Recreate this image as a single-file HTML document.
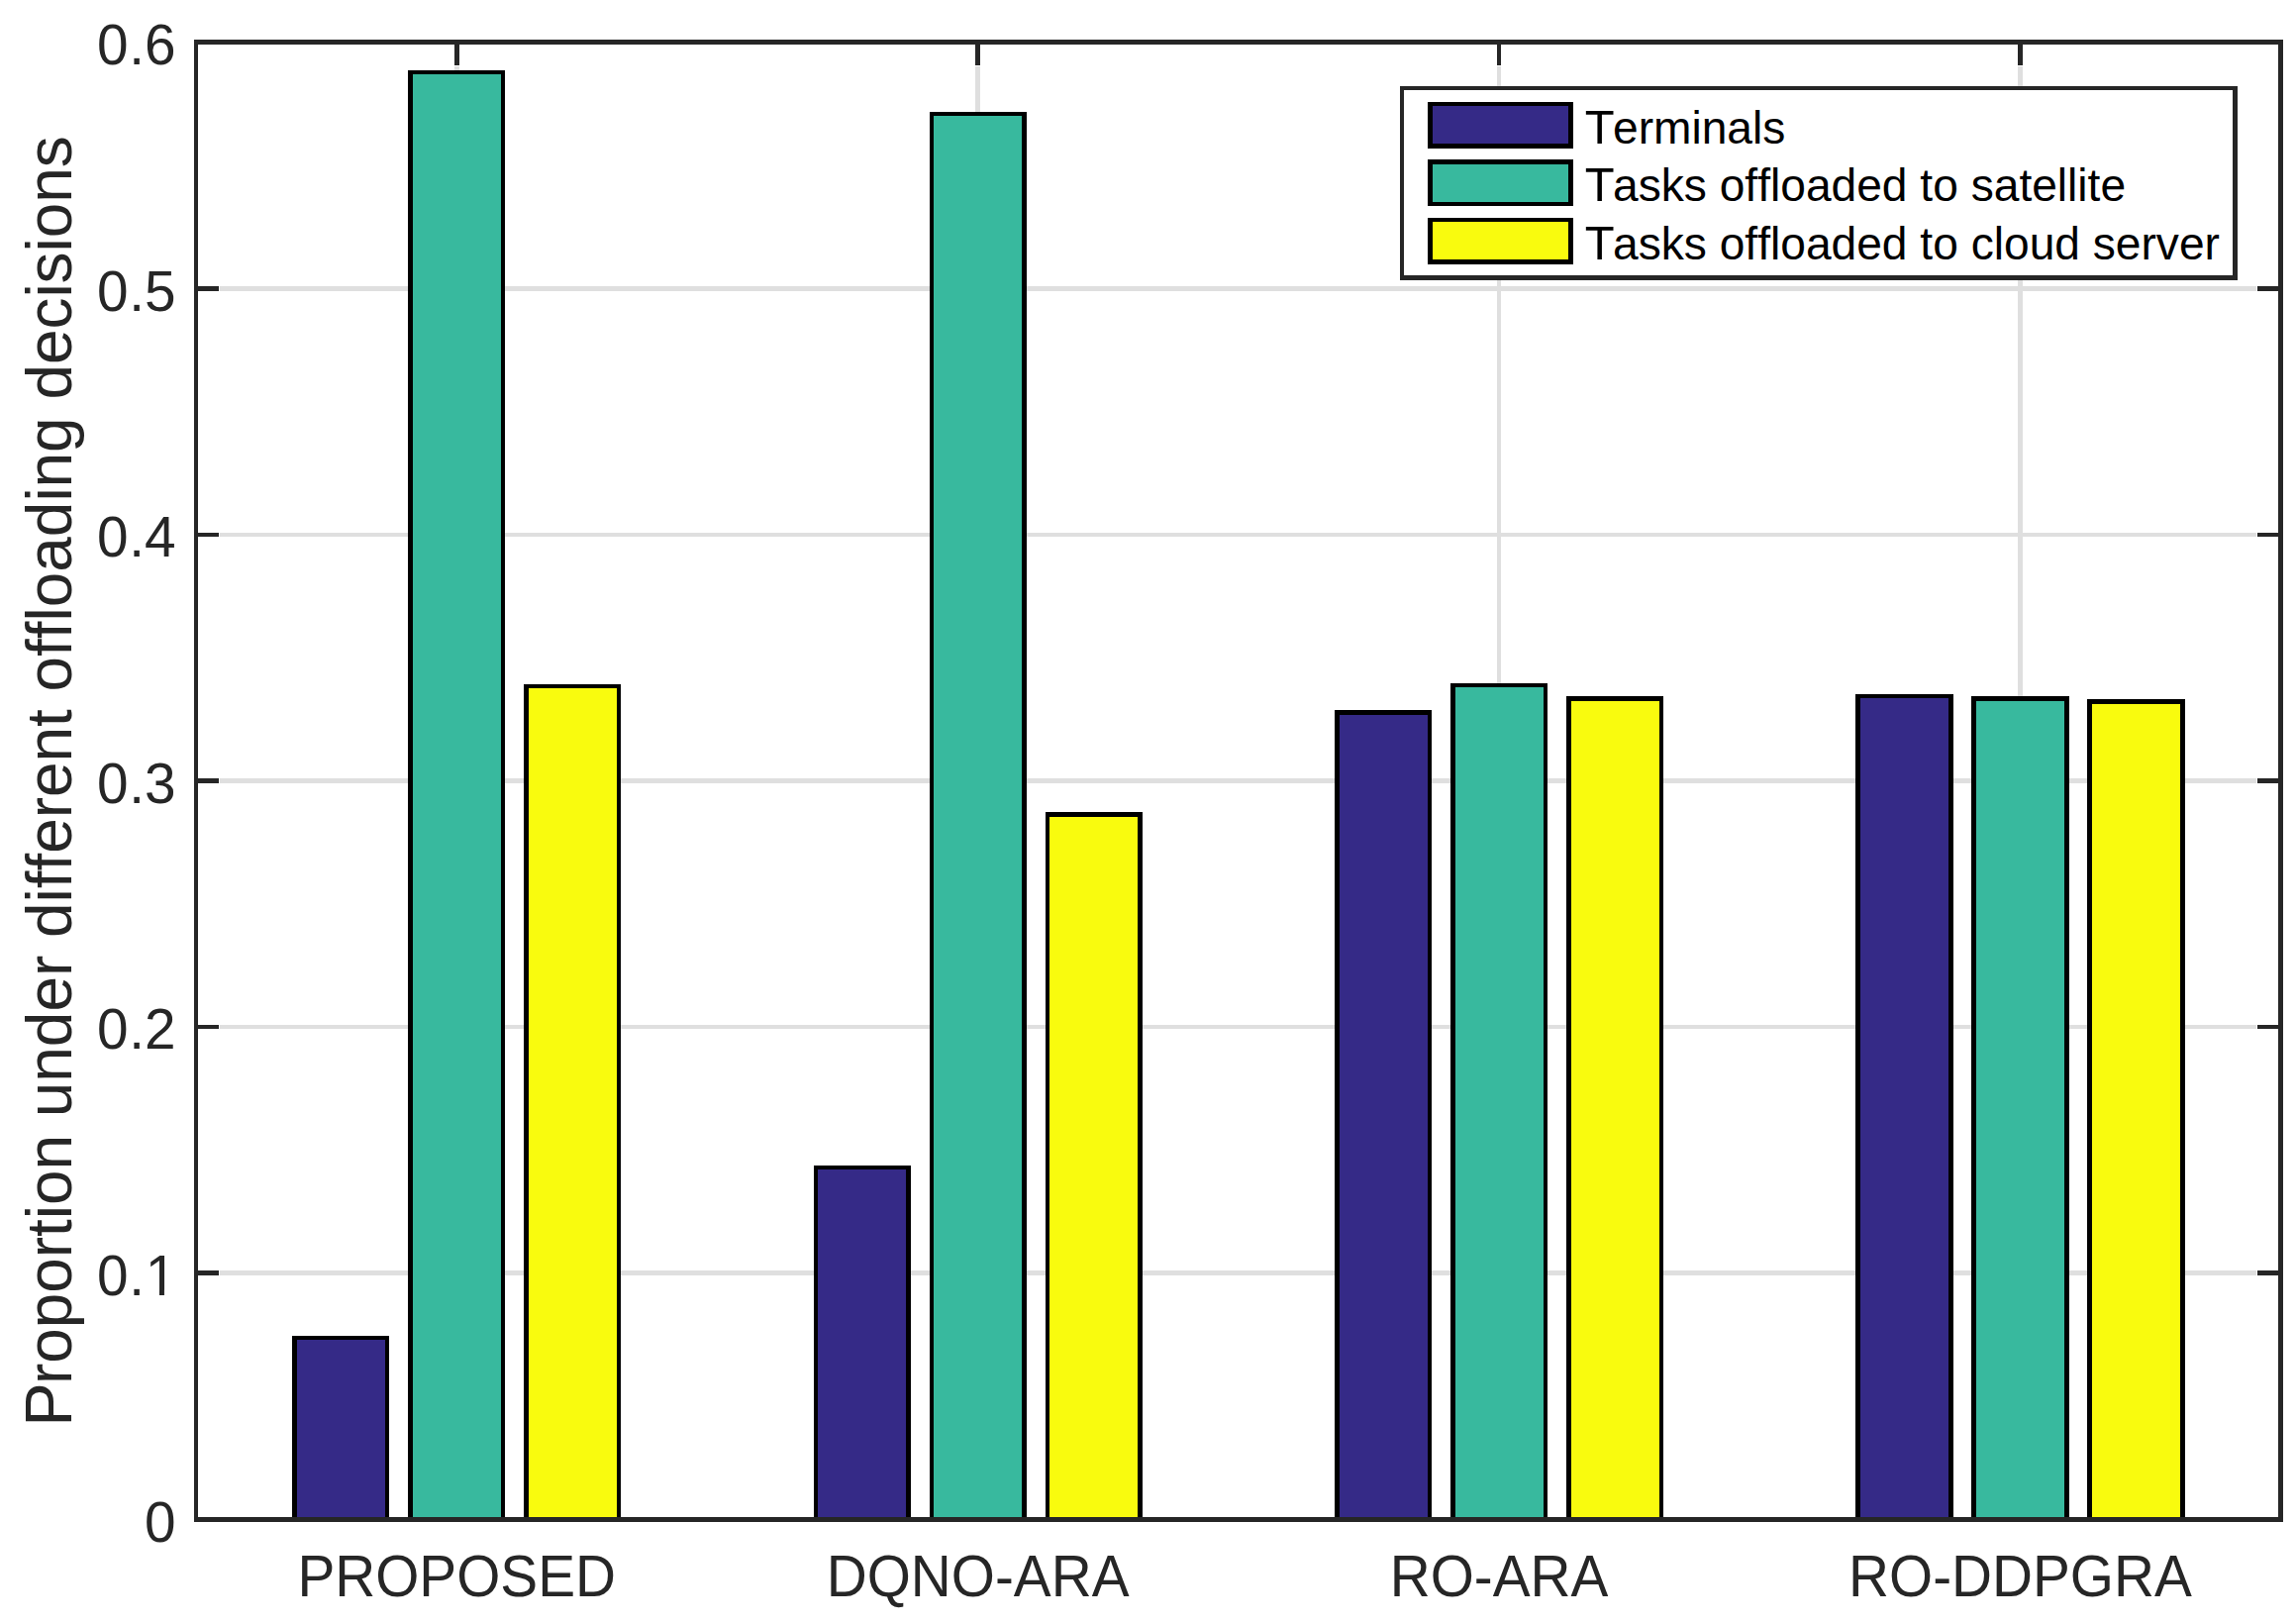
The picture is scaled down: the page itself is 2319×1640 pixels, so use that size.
<!DOCTYPE html>
<html lang="en"><head><meta charset="utf-8"><title>Proportion under different offloading decisions</title>
<style>html,body{margin:0;padding:0;background:#fff;overflow:hidden;}svg{display:block;}text{font-family:"Liberation Sans",Arial,Helvetica,sans-serif;font-kerning:none;font-variant-ligatures:none;font-feature-settings:"kern" 0,"liga" 0,"clig" 0;}</style>
</head><body>
<svg width="2319" height="1640" viewBox="0 0 2319 1640">
<rect x="0" y="0" width="2319" height="1640" fill="#fff"/>
<g fill="#DFDFDF" shape-rendering="crispEdges">
<rect x="459" y="67" width="5" height="1443"/>
<rect x="985" y="67" width="5" height="1443"/>
<rect x="1512" y="67" width="4" height="1443"/>
<rect x="2038" y="67" width="5" height="1443"/>
<rect x="222" y="1283" width="2057" height="5"/>
<rect x="222" y="1035" width="2057" height="4"/>
<rect x="222" y="786" width="2057" height="5"/>
<rect x="222" y="538" width="2057" height="4"/>
<rect x="222" y="289" width="2057" height="5"/>
</g>
<g fill="#262626" shape-rendering="crispEdges">
<rect x="459" y="45" width="5" height="21"/>
<rect x="459" y="1511" width="5" height="21"/>
<rect x="985" y="45" width="5" height="21"/>
<rect x="985" y="1511" width="5" height="21"/>
<rect x="1512" y="45" width="4" height="21"/>
<rect x="1512" y="1511" width="4" height="21"/>
<rect x="2038" y="45" width="5" height="21"/>
<rect x="2038" y="1511" width="5" height="21"/>
<rect x="200" y="1283" width="21" height="5"/>
<rect x="2280" y="1283" width="21" height="5"/>
<rect x="200" y="1035" width="21" height="4"/>
<rect x="2280" y="1035" width="21" height="4"/>
<rect x="200" y="786" width="21" height="5"/>
<rect x="2280" y="786" width="21" height="5"/>
<rect x="200" y="538" width="21" height="4"/>
<rect x="2280" y="538" width="21" height="4"/>
<rect x="200" y="289" width="21" height="5"/>
<rect x="2280" y="289" width="21" height="5"/>
</g>
<g shape-rendering="crispEdges">
<rect x="295" y="1349" width="98" height="183" fill="#000"/>
<rect x="300" y="1353" width="89" height="179" fill="#352A87"/>
<rect x="412" y="71" width="98" height="1461" fill="#000"/>
<rect x="417" y="75" width="89" height="1457" fill="#38B99E"/>
<rect x="529" y="691" width="98" height="841" fill="#000"/>
<rect x="534" y="695" width="89" height="837" fill="#F9FB0E"/>
<rect x="822" y="1177" width="98" height="355" fill="#000"/>
<rect x="826" y="1181" width="89" height="351" fill="#352A87"/>
<rect x="939" y="113" width="98" height="1419" fill="#000"/>
<rect x="943" y="117" width="89" height="1415" fill="#38B99E"/>
<rect x="1056" y="820" width="98" height="712" fill="#000"/>
<rect x="1060" y="825" width="89" height="707" fill="#F9FB0E"/>
<rect x="1348" y="717" width="98" height="815" fill="#000"/>
<rect x="1353" y="722" width="89" height="810" fill="#352A87"/>
<rect x="1465" y="690" width="98" height="842" fill="#000"/>
<rect x="1470" y="694" width="89" height="838" fill="#38B99E"/>
<rect x="1582" y="703" width="98" height="829" fill="#000"/>
<rect x="1587" y="708" width="89" height="824" fill="#F9FB0E"/>
<rect x="1874" y="701" width="99" height="831" fill="#000"/>
<rect x="1879" y="705" width="89" height="827" fill="#352A87"/>
<rect x="1991" y="703" width="99" height="829" fill="#000"/>
<rect x="1996" y="708" width="89" height="824" fill="#38B99E"/>
<rect x="2108" y="706" width="99" height="826" fill="#000"/>
<rect x="2113" y="711" width="89" height="821" fill="#F9FB0E"/>
</g>
<g fill="#262626" shape-rendering="crispEdges">
<rect x="196" y="40" width="4" height="1497"/>
<rect x="2301" y="40" width="5" height="1497"/>
<rect x="196" y="40" width="2110" height="5"/>
<rect x="196" y="1532" width="2110" height="5"/>
</g>
<g shape-rendering="crispEdges">
<rect x="1414" y="87" width="846" height="196" fill="#262626"/>
<rect x="1418" y="91" width="837" height="187" fill="#fff"/>
<rect x="1442" y="103" width="147" height="47" fill="#000"/>
<rect x="1447" y="107" width="137" height="38" fill="#352A87"/>
<rect x="1442" y="161" width="147" height="47" fill="#000"/>
<rect x="1447" y="166" width="137" height="38" fill="#38B99E"/>
<rect x="1442" y="220" width="147" height="47" fill="#000"/>
<rect x="1447" y="224" width="137" height="38" fill="#F9FB0E"/>
</g>
<g font-size="46.15px" fill="#000">
<text x="1600.8" y="144.8"><tspan font-size="48.92px">T</tspan><tspan dx="-1.69">erminals</tspan></text>
<text x="1600.8" y="203.2"><tspan font-size="48.92px">T</tspan><tspan dx="-1.69">asks offloaded to satellite</tspan></text>
<text x="1600.8" y="261.9"><tspan font-size="48.92px">T</tspan><tspan dx="-1.69">asks offloaded to cloud server</tspan></text>
</g>
<g font-size="56.75px" fill="#262626" text-anchor="end">
<text x="177.6" y="1557.2">0</text>
<text text-anchor="start" x="97.91 130.27 146.69" y="1308.2">0.1</text>
<text text-anchor="start" x="97.91 130.27 146.04" y="1059.2">0.2</text>
<text text-anchor="start" x="97.91 130.27 146.04" y="811.2">0.3</text>
<text text-anchor="start" x="97.91 130.27 146.04" y="562.2">0.4</text>
<text text-anchor="start" x="97.91 130.27 146.04" y="314.2">0.5</text>
<text text-anchor="start" x="97.91 130.27 146.04" y="65.2">0.6</text>
</g>
<rect x="149.4" y="1302.4" width="11.55" height="7.2" fill="#fff"/>
<rect x="165.95" y="1302.4" width="11.3" height="7.2" fill="#fff"/>
<g font-size="56.75px" fill="#262626" text-anchor="middle">
<text transform="translate(461.2,1611.8) scale(1,1.03)">PROPOSED</text>
<text transform="translate(987.6,1611.8) scale(1,1.03)">DQNO-ARA</text>
<text transform="translate(1514.0,1611.8) scale(1,1.03)">RO-ARA</text>
<text transform="translate(2040.4,1611.8) scale(1,1.03)">RO-DDPGRA</text>
</g>
<text font-size="63.9px" fill="#262626" text-anchor="middle" transform="translate(72,789.0) rotate(-90)"><tspan font-size="66.78px">P</tspan><tspan dx="-1.92">roportion under different offloading decisions</tspan></text>
</svg>
</body></html>
